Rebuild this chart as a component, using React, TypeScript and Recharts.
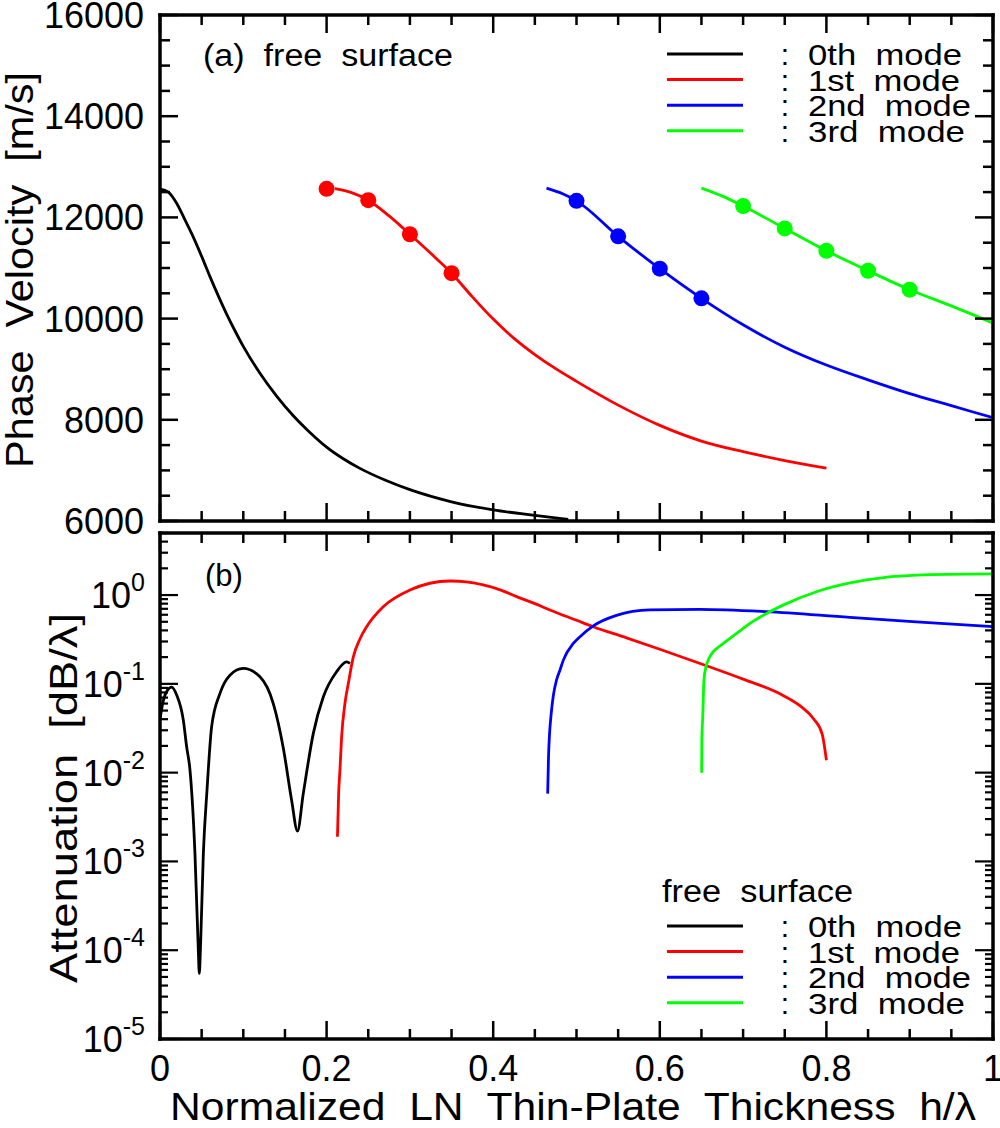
import React from 'react';
import { ComposedChart, Line, XAxis, YAxis } from 'recharts';

const FONT = '"Liberation Sans", Arial, Helvetica, sans-serif';

// shared x axis: normalized thickness h/λ
const xTicks = [0, 0.05, 0.1, 0.15, 0.2, 0.25, 0.3, 0.35, 0.4, 0.45, 0.5, 0.55, 0.6, 0.65, 0.7, 0.75, 0.8, 0.85, 0.9, 0.95, 1];
const xMajor = [0, 0.2, 0.4, 0.6, 0.8, 1];
const xLabels = ['0', '0.2', '0.4', '0.6', '0.8', '1'];

// (a) phase velocity axis
const velTicks = [6000, 6500, 7000, 7500, 8000, 8500, 9000, 9500, 10000, 10500, 11000, 11500, 12000, 12500, 13000, 13500, 14000, 14500, 15000, 15500, 16000];
const velMajor = [6000, 8000, 10000, 12000, 14000, 16000];
const velLabels = ['6000', '8000', '10000', '12000', '14000', '16000'];

// (b) attenuation axis (log)
const attDecades = [1e-5, 1e-4, 1e-3, 1e-2, 1e-1, 1];
const attExponents = ['-5', '-4', '-3', '-2', '-1', '0'];
const attMinorMult = [2, 3, 4, 5, 6, 7, 8, 9];
const attTicks = [...attDecades, ...attDecades.flatMap((d) => attMinorMult.map((m) => m * d))].filter((v) => v <= 5);

// phase velocity [m/s]
const vel0: [number, number][] = [
  [0, 12560], [0.01, 12500], [0.02, 12280], [0.03, 11950], [0.04, 11610], [0.05, 11230],
  [0.06, 10830], [0.07, 10450], [0.08, 10090], [0.09, 9760], [0.1, 9450], [0.12, 8920],
  [0.14, 8470], [0.16, 8080], [0.18, 7750], [0.2, 7460], [0.22, 7230], [0.24, 7040],
  [0.27, 6810], [0.3, 6620], [0.35, 6380], [0.4, 6220], [0.45, 6110], [0.49, 6030],
];
const vel1: [number, number][] = [
  [0.21, 12570], [0.23, 12490], [0.25, 12340], [0.275, 12030], [0.3, 11667], [0.325, 11290],
  [0.35, 10898], [0.375, 10430], [0.4, 9990], [0.425, 9610], [0.45, 9290], [0.475, 9010],
  [0.5, 8760], [0.55, 8290], [0.6, 7890], [0.65, 7580], [0.7, 7370], [0.75, 7195], [0.8, 7045],
];
const vel2: [number, number][] = [
  [0.464, 12578], [0.484, 12462], [0.5, 12327], [0.55, 11626], [0.6, 10986], [0.65, 10401],
  [0.7, 9878], [0.75, 9435], [0.8, 9082], [0.85, 8789], [0.9, 8517], [0.95, 8279], [1, 8041],
];
const vel3: [number, number][] = [
  [0.65, 12578], [0.675, 12420], [0.7, 12224], [0.75, 11782], [0.8, 11340], [0.85, 10946],
  [0.9, 10571], [0.95, 10252], [1, 9912],
];
const velDots1: [number, number][] = [[0.2, 12565], [0.25, 12340], [0.3, 11667], [0.35, 10898]];
const velDots2: [number, number][] = [[0.5, 12327], [0.55, 11626], [0.6, 10986], [0.65, 10401]];
const velDots3: [number, number][] = [[0.7, 12224], [0.75, 11782], [0.8, 11340], [0.85, 10946], [0.9, 10571]];

// attenuation [dB/λ]
const att0: [number, number][] = [
  [0, 0.04], [0.004, 0.065], [0.009, 0.085], [0.014, 0.092], [0.02, 0.075], [0.028, 0.039],
  [0.032, 0.0195], [0.036, 0.0107], [0.042, 0.0012], [0.046, 0.0001], [0.0472, 0.000055],
  [0.0485, 0.0001], [0.052, 0.0012], [0.0565, 0.0065], [0.062, 0.033], [0.072, 0.078],
  [0.084, 0.125], [0.1, 0.149], [0.12, 0.12], [0.136, 0.06], [0.148, 0.019], [0.158, 0.0049],
  [0.165, 0.0022], [0.172, 0.0058], [0.184, 0.0275], [0.196, 0.071], [0.212, 0.137],
  [0.224, 0.177], [0.228, 0.17],
];
const att1: [number, number][] = [
  [0.213, 0.0019], [0.2145, 0.006], [0.216, 0.0106], [0.218, 0.025], [0.222, 0.06], [0.226, 0.1],
  [0.232, 0.2], [0.24, 0.32], [0.248, 0.44], [0.268, 0.74], [0.3, 1.14], [0.348, 1.44],
  [0.37, 1.4], [0.388, 1.3], [0.41, 1.13], [0.428, 0.96], [0.45, 0.8], [0.468, 0.68],
  [0.5, 0.52], [0.52, 0.44], [0.56, 0.33], [0.6, 0.245], [0.656, 0.16], [0.7, 0.113],
  [0.748, 0.074], [0.77, 0.055], [0.785, 0.04], [0.795, 0.027], [0.8, 0.0138],
];
const att2: [number, number][] = [
  [0.4654, 0.0058], [0.4664, 0.015], [0.4674, 0.025], [0.4695, 0.045], [0.4722, 0.074],
  [0.476, 0.11], [0.4802, 0.143], [0.4842, 0.185], [0.4962, 0.285], [0.5042, 0.34],
  [0.5202, 0.45], [0.548, 0.59], [0.588, 0.68], [0.648, 0.69], [0.728, 0.65], [0.828, 0.56],
  [0.908, 0.5], [1, 0.44],
];
const att3: [number, number][] = [
  [0.6502, 0.01], [0.6505, 0.025], [0.6514, 0.039], [0.653, 0.11], [0.6554, 0.155],
  [0.6582, 0.186], [0.6642, 0.23], [0.6682, 0.25], [0.6762, 0.285], [0.6922, 0.37],
  [0.7082, 0.48], [0.748, 0.77], [0.788, 1.09], [0.848, 1.48], [0.908, 1.68], [1, 1.73],
];

const modeNames = ['0th  mode', '1st  mode', '2nd  mode', '3rd  mode'];
const modeWidths = [154, 152, 163, 157];
const modeColors = ['#000000', '#ff0000', '#0000ff', '#00ff00'];

const pts = (a: [number, number][]) => a.map(([x, y]) => ({ x, y }));
const near = (list: number[], v: number) => list.findIndex((m) => Math.abs(m - v) <= Math.abs(m) * 1e-6 + 1e-9);

const frame = { stroke: '#000', strokeWidth: 3.5, strokeLinecap: 'square' as const };

function xTick(side: 'top' | 'bottom', labels: boolean) {
  return (props: any) => {
    const { x, y, payload } = props;
    const i = near(xMajor, payload.value);
    const len = i >= 0 ? 18 : 10;
    const dir = side === 'bottom' ? -1 : 1;
    return (
      <g>
        <line x1={x} x2={x} y1={y} y2={y + dir * len} stroke="#000" strokeWidth={2.5} />
        {labels && i >= 0 && (
          <text x={x} y={y + 42} textAnchor="middle" fontFamily={FONT} fontSize={36} fill="#000">
            {xLabels[i]}
          </text>
        )}
      </g>
    );
  };
}

function velTick(side: 'left' | 'right') {
  return (props: any) => {
    const { x, y, payload } = props;
    const i = near(velMajor, payload.value);
    const len = i >= 0 ? 18 : 10;
    const dir = side === 'left' ? 1 : -1;
    return (
      <g>
        <line x1={x} x2={x + dir * len} y1={y} y2={y} stroke="#000" strokeWidth={2.5} />
        {side === 'left' && i >= 0 && (
          <text x={x - 16} y={y + 13} textAnchor="end" fontFamily={FONT} fontSize={36} fill="#000">
            {velLabels[i]}
          </text>
        )}
      </g>
    );
  };
}

function attTick(side: 'left' | 'right') {
  return (props: any) => {
    const { x, y, payload } = props;
    const i = near(attDecades, payload.value);
    const len = i >= 0 ? 18 : 8;
    const dir = side === 'left' ? 1 : -1;
    return (
      <g>
        <line x1={x} x2={x + dir * len} y1={y} y2={y} stroke="#000" strokeWidth={2.2} />
        {side === 'left' && i >= 0 && (
          <text x={x - 15} y={y + 13} textAnchor="end" fontFamily={FONT} fontSize={36} fill="#000">
            <tspan>10</tspan>
            <tspan dy={-17} fontSize={25}>{attExponents[i]}</tspan>
          </text>
        )}
      </g>
    );
  };
}

function Legend({ top }: { top: number }) {
  return (
    <g>
      {modeNames.map((name, k) => {
        const y = top + k * 25.6;
        return (
          <g key={name}>
            <line x1={667} x2={743} y1={y} y2={y} stroke={modeColors[k]} strokeWidth={3} />
            <text x={785} y={y + 11} textAnchor="middle" fontFamily={FONT} fontSize={30}>:</text>
            <text x={808} y={y + 11} fontFamily={FONT} fontSize={30} textLength={modeWidths[k]}
              lengthAdjust="spacingAndGlyphs" style={{ whiteSpace: 'pre' }}>
              {name}
            </text>
          </g>
        );
      })}
    </g>
  );
}

const lineProps = { type: 'monotone' as const, dataKey: 'y', dot: false, strokeWidth: 2.8, isAnimationActive: false };
const dotLine = (color: string) => ({
  type: 'linear' as const, dataKey: 'y', stroke: 'none', isAnimationActive: false,
  dot: { r: 8, fill: color, stroke: color, strokeWidth: 0 }, activeDot: false,
});

// axis boxes are 1px thick (recharts skips drawing a 0-size axis), margins are reduced by 1 to compensate
const axisCommon = { type: 'number' as const, interval: 0 as const, allowDataOverflow: true, tickSize: 0, tickMargin: 0, tickLine: false, axisLine: frame };

export default function App() {
  return (
    <div style={{ position: 'absolute', left: 0, top: 0, width: 1000, height: 1128, background: '#fff' }}>
      <div style={{ position: 'absolute', left: 0, top: 0 }}>
        <ComposedChart width={1000} height={1128} margin={{ top: 14, right: 6, bottom: 606, left: 159 }}>
          <XAxis xAxisId="b" dataKey="x" domain={[0, 1]} ticks={xTicks} height={1} tick={xTick('bottom', false)} {...axisCommon} />
          <XAxis xAxisId="t" orientation="top" dataKey="x" domain={[0, 1]} ticks={xTicks} height={1} tick={xTick('top', false)} {...axisCommon} />
          <YAxis yAxisId="l" dataKey="y" domain={[6000, 16000]} ticks={velTicks} width={1} tick={velTick('left')} {...axisCommon} />
          <YAxis yAxisId="r" orientation="right" domain={[6000, 16000]} ticks={velTicks} width={1} tick={velTick('right')} {...axisCommon} />
          <Line xAxisId="b" yAxisId="l" data={pts(vel0)} stroke={modeColors[0]} {...lineProps} />
          <Line xAxisId="b" yAxisId="l" data={pts(vel1)} stroke={modeColors[1]} {...lineProps} />
          <Line xAxisId="b" yAxisId="l" data={pts(vel2)} stroke={modeColors[2]} {...lineProps} />
          <Line xAxisId="b" yAxisId="l" data={pts(vel3)} stroke={modeColors[3]} {...lineProps} />
          <Line xAxisId="b" yAxisId="l" data={pts(velDots1)} {...dotLine(modeColors[1])} />
          <Line xAxisId="b" yAxisId="l" data={pts(velDots2)} {...dotLine(modeColors[2])} />
          <Line xAxisId="b" yAxisId="l" data={pts(velDots3)} {...dotLine(modeColors[3])} />
        </ComposedChart>
      </div>
      <div style={{ position: 'absolute', left: 0, top: 0 }}>
        <ComposedChart width={1000} height={1128} margin={{ top: 532, right: 6, bottom: 88, left: 159 }}>
          <XAxis xAxisId="b" dataKey="x" domain={[0, 1]} ticks={xTicks} height={1} tick={xTick('bottom', true)} {...axisCommon} />
          <XAxis xAxisId="t" orientation="top" dataKey="x" domain={[0, 1]} ticks={xTicks} height={1} tick={xTick('top', false)} {...axisCommon} />
          <YAxis yAxisId="l" dataKey="y" scale="log" domain={[1e-5, 5]} ticks={attTicks} width={1} tick={attTick('left')} {...axisCommon} />
          <YAxis yAxisId="r" orientation="right" scale="log" domain={[1e-5, 5]} ticks={attTicks} width={1} tick={attTick('right')} {...axisCommon} />
          <Line xAxisId="b" yAxisId="l" data={pts(att0)} stroke={modeColors[0]} {...lineProps} />
          <Line xAxisId="b" yAxisId="l" data={pts(att1)} stroke={modeColors[1]} {...lineProps} />
          <Line xAxisId="b" yAxisId="l" data={pts(att2)} stroke={modeColors[2]} {...lineProps} />
          <Line xAxisId="b" yAxisId="l" data={pts(att3)} stroke={modeColors[3]} {...lineProps} />
        </ComposedChart>
      </div>
      <svg width={1000} height={1128} style={{ position: 'absolute', left: 0, top: 0, pointerEvents: 'none' }}>
        <text transform="translate(33,270) rotate(-90)" textAnchor="middle" fontFamily={FONT} fontSize={39}
          textLength={396} lengthAdjust="spacingAndGlyphs" style={{ whiteSpace: 'pre' }}>Phase  Velocity  [m/s]</text>
        <text transform="translate(77,798) rotate(-90)" textAnchor="middle" fontFamily={FONT} fontSize={39}
          textLength={370} lengthAdjust="spacingAndGlyphs" style={{ whiteSpace: 'pre' }}>Attenuation  [dB/λ]</text>
        <text x={573} y={1120} textAnchor="middle" fontFamily={FONT} fontSize={38} textLength={806}
          lengthAdjust="spacingAndGlyphs" style={{ whiteSpace: 'pre' }}>Normalized  LN  Thin-Plate  Thickness  h/λ</text>
        <text x={203} y={66} fontFamily={FONT} fontSize={31} textLength={250} lengthAdjust="spacingAndGlyphs"
          style={{ whiteSpace: 'pre' }}>(a)  free  surface</text>
        <text x={205} y={586} fontFamily={FONT} fontSize={31}>(b)</text>
        <text x={662} y={902} fontFamily={FONT} fontSize={31} textLength={191} lengthAdjust="spacingAndGlyphs"
          style={{ whiteSpace: 'pre' }}>free  surface</text>
        <Legend top={54} />
        <Legend top={926} />
      </svg>
    </div>
  );
}
